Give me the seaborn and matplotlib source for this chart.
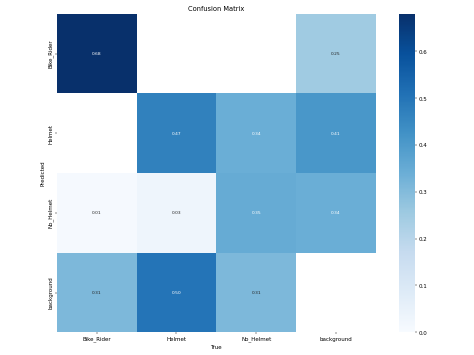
import numpy as np
import pandas as pd
import seaborn as sns
import matplotlib
matplotlib.use('Agg')
import matplotlib.pyplot as plt

# class names
names = ['Bike_Rider', 'Helmet', 'No_Helmet', 'background']
# confusion matrix rows = Predicted, cols = True (blank cells are nan)
bike_rider_row = [0.68, np.nan, np.nan, 0.25]
helmet_row = [np.nan, 0.47, 0.34, 0.41]
no_helmet_row = [0.01, 0.03, 0.35, 0.34]
background_row = [0.31, 0.50, 0.31, np.nan]

df = pd.DataFrame([bike_rider_row, helmet_row, no_helmet_row, background_row],
                  index=names, columns=names)

fig, ax = plt.subplots(1, 1, figsize=(12, 9), tight_layout=True)
sns.heatmap(df, ax=ax, annot=True, annot_kws={'size': 8}, cmap='Blues', fmt='.2f',
            square=True, vmin=0.0, xticklabels=names, yticklabels=names).set_facecolor((1, 1, 1))
ax.set_xlabel('True')
ax.set_ylabel('Predicted')
ax.set_title('Confusion Matrix')
fig.savefig('out.png', dpi=39.5)
